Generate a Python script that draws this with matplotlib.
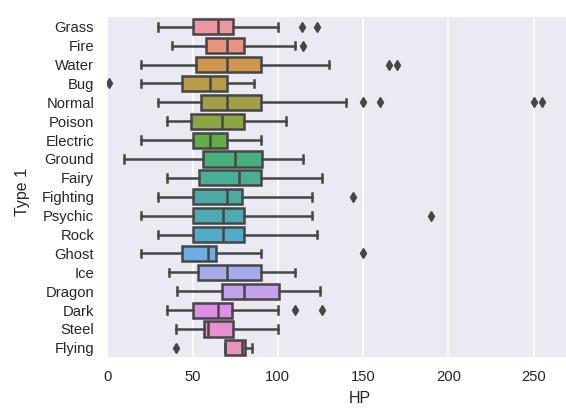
import matplotlib
matplotlib.use('Agg')
import matplotlib.pyplot as plt
import seaborn as sns
import colorsys

# ---- data ----
types = ['Grass', 'Fire', 'Water', 'Bug', 'Normal', 'Poison', 'Electric', 'Ground',
         'Fairy', 'Fighting', 'Psychic', 'Rock', 'Ghost', 'Ice', 'Dragon', 'Dark',
         'Steel', 'Flying']
whislo = [30, 38, 20, 20, 30, 35, 20, 10, 35, 30, 20, 30, 20, 36, 41, 35, 40, 69]
q1 = [50.5, 58, 52, 44, 55, 49, 50, 56, 54, 50, 50, 50, 44, 53, 67, 50, 56.5, 69]
med = [65, 70, 70, 60, 70, 67, 60, 75, 77, 70, 68, 68, 59, 70, 80, 65, 59, 79]
q3 = [74, 80, 90, 70, 90, 80, 70, 91, 90, 79, 80, 80, 64, 90, 100.5, 73, 74, 80.5]
whishi = [100, 110, 130, 86, 140, 105, 90, 115, 126, 120, 120, 123, 90, 110, 125, 100, 100, 85]
fliers = [[114, 123], [115], [165, 170], [1], [150, 160, 250, 255], [], [], [], [],
          [144], [190], [], [150], [], [], [110, 126], [], [40]]
xticks = [0, 50, 100, 150, 200, 250]

# ---- style ----
W, H, DPI = 566, 419, 100
plt.rcParams['font.family'] = ['Liberation Sans', 'DejaVu Sans']
fig = plt.figure(figsize=(W / DPI, H / DPI), dpi=DPI)
ax_l, ax_r, ax_t, ax_b = 107.3, 566, 17.3, 357.3
ax = fig.add_axes([ax_l / W, 1 - ax_b / H, (ax_r - ax_l) / W, (ax_b - ax_t) / H])
ax.set_facecolor('#EAEAF2')
for s in ax.spines.values():
    s.set_visible(False)

pal = sns.husl_palette(len(types), l=.7)
pal = [sns.desaturate(c, .75) for c in pal]
lum = min(colorsys.rgb_to_hls(*c)[1] for c in pal) * .6
gray = (lum, lum, lum)

stats = []
for i, t in enumerate(types):
    stats.append(dict(label=t, whislo=whislo[i], q1=q1[i], med=med[i], q3=q3[i],
                      whishi=whishi[i], fliers=fliers[i]))

lw = 1.8
bp = ax.bxp(stats, positions=list(range(len(types))), widths=0.8,
            orientation='horizontal', patch_artist=True,
            boxprops=dict(edgecolor=gray, linewidth=lw),
            medianprops=dict(color=gray, linewidth=lw),
            whiskerprops=dict(color=gray, linewidth=lw),
            capprops=dict(color=gray, linewidth=lw),
            flierprops=dict(marker='d', markersize=5.5, markerfacecolor=gray,
                            markeredgecolor=gray, linestyle='none'))
for patch, c in zip(bp['boxes'], pal):
    patch.set_facecolor(c)

ax.set_ylim(len(types) - 0.5, -0.5)
ax.set_xlim(0, 269)
ax.set_yticks(range(len(types)))
ax.set_yticklabels(types)
ax.set_xticks(xticks)
ax.set_xticklabels([str(v) for v in xticks])
ax.grid(axis='x', color='white', linewidth=1.1)
ax.grid(axis='y', visible=False)
ax.set_axisbelow(True)
ax.tick_params(axis='both', length=0, labelsize=10.6, colors='#262626', pad=9.4)

ax.set_xlabel('HP', fontsize=11.5, color='#262626')
ax.set_ylabel('Type 1', fontsize=11.5, color='#262626')
ax.xaxis.set_label_coords((360 - ax_l) / (ax_r - ax_l), -(398 - ax_b) / (ax_b - ax_t))
ax.yaxis.set_label_coords(-(ax_l - 23) / (ax_r - ax_l), (ax_b - 192) / (ax_b - ax_t))
ax.xaxis.label.set_verticalalignment('center')
ax.yaxis.label.set_verticalalignment('center')

fig.savefig('out.png', dpi=DPI)
